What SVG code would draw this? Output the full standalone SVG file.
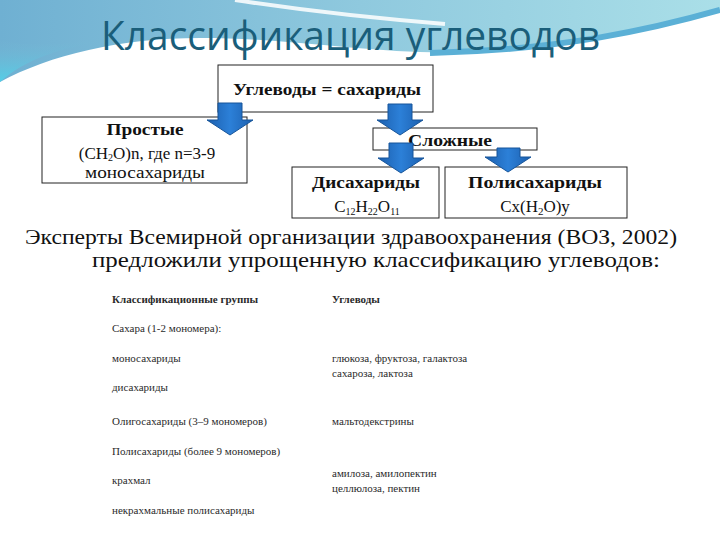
<svg xmlns="http://www.w3.org/2000/svg" width="720" height="540" viewBox="0 0 720 540">
<style>
.box{fill:#fff;stroke:#222;stroke-width:1}
.bt{font-family:"Liberation Serif","DejaVu Serif",serif;font-size:17px;fill:#111;text-anchor:middle}
.b{font-weight:bold}
.arr{fill:url(#ag);stroke:#17559a;stroke-width:1}
.para{font-family:"Liberation Serif","DejaVu Serif",serif;font-size:22px;fill:#111}
.tb{font-family:"Liberation Serif","DejaVu Serif",serif;font-size:11px;fill:#2a2a2a}
</style>
<defs>
<linearGradient id="bg" x1="0" y1="0" x2="1" y2="0">
<stop offset="0" stop-color="#6fb0d2"/>
<stop offset="0.5" stop-color="#8fc9de"/>
<stop offset="1" stop-color="#aadfe8"/>
</linearGradient>
<linearGradient id="edge" x1="0" y1="0" x2="0" y2="1">
<stop offset="0" stop-color="#7ab6d2" stop-opacity="0"/>
<stop offset="1" stop-color="#4fd3ea" stop-opacity="0.9"/>
</linearGradient>
<linearGradient id="ag" x1="0" y1="0" x2="1" y2="0">
<stop offset="0" stop-color="#1c5fae"/>
<stop offset="0.5" stop-color="#2c80d8"/>
<stop offset="1" stop-color="#1c5fae"/>
</linearGradient>
</defs>
<rect width="720" height="540" fill="#fff"/>
<path d="M0,0 H720 V12 C640,30 560,48 470,52 C380,56 300,38 200,38 C120,38 50,55 0,82 Z" fill="url(#bg)"/>
<path d="M0,40 C40,50 80,40 130,38 C60,45 25,60 0,82 Z" fill="url(#edge)"/>
<path d="M430,53 C560,50 650,30 720,10" fill="none" stroke="#5bb0d6" stroke-width="6"/>
<path d="M235,0 C300,10 370,18 445,24" fill="none" stroke="#ffffff" stroke-width="4" stroke-opacity="0.85"/>
<text x="101" y="50" font-family="'Open Sans','Noto Sans',sans-serif" font-size="41" fill="#1a5e7a" textLength="499" lengthAdjust="spacingAndGlyphs">Классификация углеводов</text>

<g id="node-top"><rect class="box" x="218" y="65" width="215" height="47"/><text class="bt b" x="327" y="95" textLength="188" lengthAdjust="spacingAndGlyphs">Углеводы = сахариды</text></g>
<g id="node-simple"><rect class="box" x="42" y="117" width="205" height="66"/>
<text class="bt b" x="145" y="135" textLength="77" lengthAdjust="spacingAndGlyphs">Простые</text>
<text class="bt" x="147" y="159" font-size="16">(CH<tspan font-size="10" dy="2">2</tspan><tspan dy="-2">O)n, где n=3-9</tspan></text>
<text class="bt" x="145" y="178" font-size="16" textLength="120" lengthAdjust="spacingAndGlyphs">моносахариды</text></g>
<g id="node-complex"><rect class="box" x="373" y="128" width="164" height="22"/><text class="bt b" x="450" y="146" textLength="84" lengthAdjust="spacingAndGlyphs">Сложные</text></g>
<g id="node-di"><rect class="box" x="292" y="167" width="147" height="51"/>
<text class="bt b" x="366" y="188" textLength="108" lengthAdjust="spacingAndGlyphs">Дисахариды</text>
<text class="bt" x="367" y="212">C<tspan font-size="10" dy="3">12</tspan><tspan dy="-3">H</tspan><tspan font-size="10" dy="3">22</tspan><tspan dy="-3">O</tspan><tspan font-size="10" dy="3">11</tspan></text></g>
<g id="node-poly"><rect class="box" x="445" y="167" width="182" height="51"/>
<text class="bt b" x="535" y="188" textLength="134" lengthAdjust="spacingAndGlyphs">Полисахариды</text>
<text class="bt" x="535" y="212">Cx(H<tspan font-size="11" dy="3">2</tspan><tspan dy="-3">O)y</tspan></text></g>

<g id="connectors">
<path class="arr" d="M218,103 H242 V120 H253 L230,135 L207,120 H218 Z"/>
<path class="arr" d="M388,104 H412 V120 H423 L400,135 L377,120 H388 Z"/>
<path class="arr" d="M389,143 H413 V158 H424 L401,173 L378,158 H389 Z"/>
<path class="arr" d="M497,148 H520 V157 H531 L508,172 L485,157 H497 Z"/>
</g>

<text class="para" x="25" y="244" textLength="652" lengthAdjust="spacingAndGlyphs">Эксперты Всемирной организации здравоохранения (ВОЗ, 2002)</text>
<text class="para" x="92" y="267" textLength="568" lengthAdjust="spacingAndGlyphs">предложили упрощенную классификацию углеводов:</text>

<g id="table">
<text class="tb" x="112" y="303" font-weight="bold">Классификационные группы</text>
<text class="tb" x="332" y="303" font-weight="bold">Углеводы</text>
<text class="tb" x="112" y="332">Сахара (1-2 мономера):</text>
<text class="tb" x="112" y="362">моносахариды</text>
<text class="tb" x="332" y="362">глюкоза, фруктоза, галактоза</text>
<text class="tb" x="332" y="377">сахароза, лактоза</text>
<text class="tb" x="112" y="391">дисахариды</text>
<text class="tb" x="112" y="425">Олигосахариды (3–9 мономеров)</text>
<text class="tb" x="332" y="425">мальтодекстрины</text>
<text class="tb" x="112" y="455">Полисахариды (более 9 мономеров)</text>
<text class="tb" x="332" y="477">амилоза, амилопектин</text>
<text class="tb" x="112" y="484">крахмал</text>
<text class="tb" x="332" y="492">целлюлоза, пектин</text>
<text class="tb" x="112" y="514">некрахмальные полисахариды</text>
</g>
</svg>
